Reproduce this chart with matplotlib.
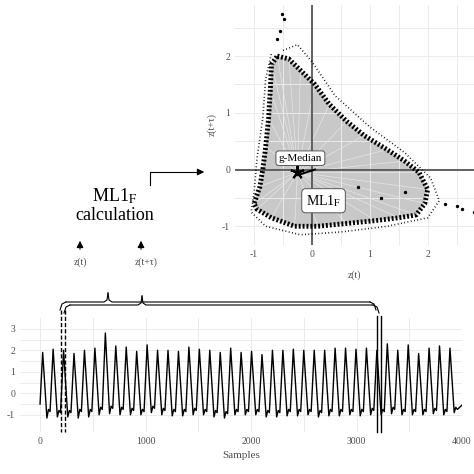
import numpy as np
import matplotlib.pyplot as plt
from matplotlib.patches import Polygon

plt.rcParams['font.family'] = ['Liberation Serif', 'DejaVu Serif']
plt.rcParams['mathtext.fontset'] = 'stix'
plt.rcParams['axes.unicode_minus'] = False

# signal: peak / trough samples and values
peak_x = [25 + 99 * k for k in range(40)]
peak_y = [1.9, 2.05, 2.0, 1.85, 2.0, 2.1, 2.8, 2.2, 2.15, 1.95, 2.25, 2.0, 2.0, 1.95,
          2.15, 2.05, 2.0, 1.9, 2.1, 1.9, 1.95, 1.8, 2.0, 2.0, 2.05, 2.0, 2.0, 2.0,
          2.1, 2.1, 2.05, 2.1, 2.0, 2.3, 2.0, 2.25, 1.85, 2.1, 2.2, 2.1]
trough_y = [-1.15, -1.1, -1.1, -1.15, -1.1, -1.0, -0.95, -1.0, -1.0, -1.0, -0.9, -1.0,
            -1.05, -1.05, -1.0, -1.0, -1.1, -1.15, -1.0, -1.0, -1.0, -1.1, -1.1, -1.05,
            -1.05, -1.0, -1.1, -1.05, -1.05, -1.0, -1.05, -1.0, -1.0, -0.95, -1.0, -1.0,
            -1.0, -0.95, -1.0, -0.9]
shoulder_y = [-0.75, -0.8, -0.8, -0.75, -0.75, -0.65, -0.6, -0.65, -0.7, -0.75, -0.6, -0.7,
              -0.75, -0.75, -0.7, -0.75, -0.8, -0.85, -0.75, -0.75, -0.75, -0.8, -0.8, -0.75,
              -0.75, -0.75, -0.8, -0.75, -0.75, -0.75, -0.75, -0.7, -0.75, -0.65, -0.75, -0.75,
              -0.75, -0.7, -0.75, -0.65]
start_y = -0.5
end_y = -0.55

# phase-space loop outline (z(t), z(t+tau))
loop_x = [-0.6, -0.4, -0.2, 0.05, 0.3, 0.6, 0.9, 1.3, 1.6, 1.85, 2.0, 1.95, 1.8, 1.5,
          1.1, 0.6, 0.1, -0.3, -0.7, -0.95, -1.0, -0.9, -0.85, -0.8, -0.75, -0.72, -0.7]
loop_y = [2.0, 1.95, 1.75, 1.5, 1.15, 0.85, 0.6, 0.35, 0.15, -0.05, -0.35, -0.6, -0.8,
          -0.85, -0.9, -0.95, -1.0, -1.0, -0.85, -0.7, -0.6, -0.3, 0.0, 0.4, 0.9, 1.4, 1.85]
outer_x = [-0.5, -0.25, 0.0, 0.4, 1.0, 1.6, 2.05, 2.2, 2.0, 1.3, 0.5, -0.2, -0.8, -1.05,
           -1.0, -0.95, -0.85, -0.8, -0.7]
outer_y = [2.1, 2.2, 1.9, 1.3, 0.75, 0.3, -0.15, -0.55, -0.85, -1.0, -1.1, -1.15, -1.0,
           -0.75, -0.4, 0.2, 0.9, 1.6, 2.05]
outlier_x = [-0.52, -0.48, -0.55, -0.6, 2.3, 2.5, 2.8, 1.2, 0.8, 1.6, 2.6]
outlier_y = [2.75, 2.65, 2.45, 2.3, -0.6, -0.65, -0.75, -0.5, -0.3, -0.4, -0.7]
median_x, median_y = -0.25, -0.05

fig = plt.figure(figsize=(4.74, 4.74), dpi=100)
W = H = 474.0

def fx(px):
    return px / W

def fy(py):
    return 1 - py / H

grid_c = '#ebebeb'
tick_c = '#4d4d4d'

# ---- phase-space panel
ax1 = fig.add_axes([fx(235), fy(245), 1 - fx(235), fy(5) - fy(245)])
ax1.set_xlim(-1.33, 2.8)
ax1.set_ylim(-1.33, 2.9)
for s in ax1.spines.values():
    s.set_visible(False)
ax1.set_xticks([-1, 0, 1, 2])
ax1.set_yticks([-1, 0, 1, 2])
ax1.set_xticks([-0.5, 0.5, 1.5, 2.5], minor=True)
ax1.set_yticks([-0.5, 0.5, 1.5, 2.5], minor=True)
ax1.grid(True, which='both', color=grid_c, lw=0.7)
ax1.tick_params(which='both', length=0, labelsize=7, colors=tick_c)
ax1.set_xlabel('z(t)', fontsize=7, color=tick_c, labelpad=8)
ax1.set_ylabel('z(t+τ)', fontsize=7, color=tick_c)
ax1.add_patch(Polygon(np.column_stack([loop_x, loop_y]), closed=True,
                      fc='#c8c8c8', ec='none', zorder=1))
for x, y in zip(loop_x, loop_y):
    ax1.plot([median_x, x], [median_y, y], color='#e6e6e6', lw=0.5, zorder=2)
ax1.axhline(0, color='#555555', lw=1.3, zorder=3)
ax1.axvline(0, color='#555555', lw=1.3, zorder=3)
ax1.plot(loop_x + loop_x[:1], loop_y + loop_y[:1], color='black', lw=3.5,
         ls=(0, (0.4, 0.4)), zorder=4)
ax1.plot(outer_x, outer_y, color='black', lw=1.2, ls=(0, (0.5, 1.5)), zorder=4)
ax1.scatter(outlier_x, outlier_y, s=2, color='black', zorder=4)
ax1.plot(median_x, median_y, marker=(5, 2), ms=10, color='black', mew=1.5, zorder=5)
ax1.plot([median_x, 0.05], [median_y - 0.05, 0.0], color='black', lw=1.5, zorder=5)
ax1.text(-0.2, 0.2, 'g-Median', fontsize=8, ha='center', va='center', zorder=6,
         bbox=dict(boxstyle='round,pad=0.25', fc='white', ec='#555555', lw=0.7))
ax1.text(0.2, -0.55, r'ML1$_\mathrm{F}$', fontsize=10, ha='center', va='center', zorder=6,
         bbox=dict(boxstyle='round,pad=0.3', fc='white', ec='#555555', lw=0.7))

# ---- time-series panel
ax2 = fig.add_axes([fx(20), fy(432), fx(462) - fx(20), fy(318) - fy(432)])
sx = [0]
sy = [start_y]
for px, py, ty, sh in zip(peak_x, peak_y, trough_y, shoulder_y):
    sx += [px, px + 40, px + 55, px + 70]
    sy += [py, ty, sh, sh - 0.1]
sx.append(4000)
sy.append(end_y)
ax2.plot(sx, sy, color='black', lw=1.0)
ax2.set_xlim(-190, 3990)
ax2.set_ylim(-1.8, 3.5)
for s in ax2.spines.values():
    s.set_visible(False)
ax2.set_xticks([0, 1000, 2000, 3000, 4000])
ax2.set_yticks([-1, 0, 1, 2, 3])
ax2.set_xticks([500, 1500, 2500, 3500], minor=True)
ax2.set_yticks([-0.5, 0.5, 1.5, 2.5], minor=True)
ax2.grid(True, which='both', color=grid_c, lw=0.7)
ax2.tick_params(which='both', length=0, labelsize=7, colors=tick_c)
ax2.set_xlabel('Samples', fontsize=8, color=tick_c)

# ---- overlay annotations in pixel coordinates
ov = fig.add_axes([0, 0, 1, 1], facecolor='none')
ov.set_xlim(0, W)
ov.set_ylim(H, 0)
ov.axis('off')
ov.text(115, 205, 'ML1$_\\mathrm{F}$\ncalculation', fontsize=13, ha='center', va='center',
        linespacing=1.1)
ov.plot([150, 150, 200], [185, 172, 172], color='black', lw=0.8)
ov.annotate('', xy=(207, 172), xytext=(198, 172),
            arrowprops=dict(arrowstyle='-|>', color='black', lw=0.8))
ov.text(80, 262, 'z(t)', fontsize=7, ha='center', va='center', color=tick_c)
ov.text(146, 262, 'z(t+τ)', fontsize=7, ha='center', va='center', color=tick_c)
for x in [80, 141]:
    ov.annotate('', xy=(x, 238), xytext=(x, 252),
                arrowprops=dict(arrowstyle='-|>', color='black', lw=0.8))

def brace(x0, x1, xm, y):
    ov.plot([x0, x0 + 2, x0 + 6], [y + 8, y + 2, y], color='black', lw=0.8)
    ov.plot([x0 + 6, xm - 4, xm - 1, xm], [y, y, y - 2, y - 9], color='black', lw=0.8)
    ov.plot([xm, xm + 1, xm + 4, x1 - 6], [y - 9, y - 2, y, y], color='black', lw=0.8)
    ov.plot([x1 - 6, x1 - 2, x1], [y, y + 2, y + 8], color='black', lw=0.8)

brace(60, 376, 108, 302)
brace(64, 379, 142, 305)
for x in [61, 65]:
    ov.plot([x, x], [310, 432], color='black', lw=1.0, ls=(0, (3, 1.5)))
for x in [377, 381]:
    ov.plot([x, x], [316, 432], color='black', lw=1.0)

fig.savefig('out.png', dpi=100)
